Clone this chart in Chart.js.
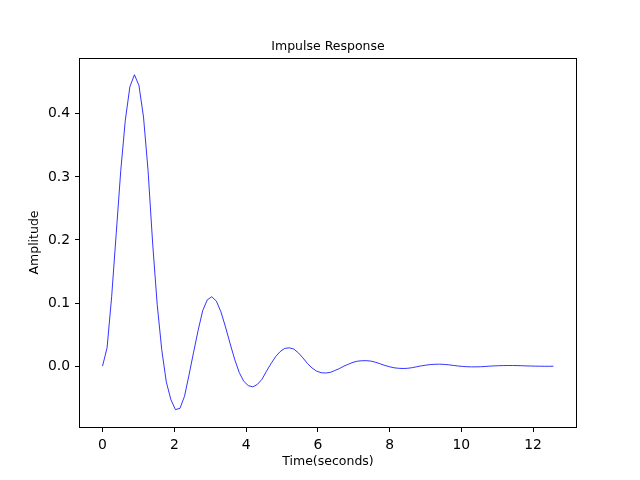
<!DOCTYPE html>
<html>
<head>
<meta charset="utf-8">
<script src="https://cdn.jsdelivr.net/npm/chart.js@4.4.0/dist/chart.umd.min.js"></script>
<style>
  html, body { margin: 0; padding: 0; background: #fff; }
  #wrap { width: 640px; height: 480px; position: relative; }
</style>
</head>
<body>
<div id="wrap"><canvas id="chart" width="640" height="480"></canvas></div>
<script>
// sample times (s)
const times = [
  0.000, 0.127, 0.254, 0.381, 0.508, 0.635, 0.762, 0.889, 1.015, 1.142,
  1.269, 1.396, 1.523, 1.650, 1.777, 1.904, 2.031, 2.158, 2.284, 2.411,
  2.538, 2.665, 2.792, 2.919, 3.046, 3.173, 3.300, 3.427, 3.554, 3.681,
  3.808, 3.935, 4.062, 4.189, 4.316, 4.443, 4.570, 4.697, 4.824, 4.950,
  5.077, 5.204, 5.331, 5.458, 5.585, 5.712, 5.839, 5.966, 6.093, 6.219,
  6.346, 6.473, 6.600, 6.727, 6.854, 6.981, 7.108, 7.235, 7.362, 7.489,
  7.616, 7.743, 7.870, 7.997, 8.124, 8.250, 8.377, 8.504, 8.631, 8.758,
  8.885, 9.012, 9.139, 9.266, 9.393, 9.520, 9.647, 9.774, 9.900, 10.027,
  10.154, 10.281, 10.408, 10.535, 10.662, 10.789, 10.916, 11.043, 11.170, 11.297,
  11.424, 11.551, 11.677, 11.804, 11.931, 12.058, 12.185, 12.312, 12.439, 12.566
];

// amplitude at each sample
const amplitude = [
  0.000, 0.029, 0.110, 0.210, 0.310, 0.390, 0.443, 0.462, 0.445, 0.395,
  0.310, 0.195, 0.098, 0.026, -0.025, -0.053, -0.069, -0.067, -0.048, -0.014,
  0.022, 0.057, 0.088, 0.105, 0.110, 0.103, 0.086, 0.062, 0.036, 0.011,
  -0.010, -0.024, -0.031, -0.033, -0.029, -0.021, -0.008, 0.004, 0.015, 0.023,
  0.028, 0.029, 0.027, 0.021, 0.013, 0.004, -0.003, -0.008, -0.0105, -0.011,
  -0.010, -0.007, -0.004, 0.000, 0.003, 0.006, 0.0078, 0.0085, 0.0086, 0.0078,
  0.006, 0.0035, 0.001, -0.001, -0.0027, -0.0035, -0.0038, -0.0035, -0.0025, -0.001,
  0.0004, 0.0015, 0.0024, 0.0029, 0.003, 0.0027, 0.002, 0.0011, 0.0002, -0.0005,
  -0.001, -0.0012, -0.0012, -0.001, -0.0006, -0.0001, 0.0003, 0.0006, 0.0008, 0.0009,
  0.0009, 0.0008, 0.0006, 0.0003, 0.0001, -0.0001, -0.0002, -0.0003, -0.0003, -0.0002
];

const xTicks = [0, 2, 4, 6, 8, 10, 12];
const yTicks = [0.0, 0.1, 0.2, 0.3, 0.4];

const TITLE = "Impulse Response";
const FONT = "'DejaVu Sans', sans-serif";

const points = times.map(function (t, i) {
  return { x: t, y: amplitude[i] };
});

// black box round the plot area, title centred over it
const frame = {
  id: "frame",
  afterDraw: function (chart) {
    const a = chart.chartArea;
    const ctx = chart.ctx;
    ctx.save();
    ctx.strokeStyle = "#000";
    ctx.lineWidth = 1;
    ctx.strokeRect(Math.round(a.left) - 0.5, Math.round(a.top) + 0.5,
      Math.round(a.right - a.left) + 1, Math.round(a.bottom - a.top));
    ctx.fillStyle = "#000";
    ctx.font = "12.5px " + FONT;
    ctx.textAlign = "center";
    ctx.textBaseline = "middle";
    ctx.fillText(TITLE, (a.left + a.right) / 2, 47);
    ctx.restore();
  },
};

new Chart(document.getElementById("chart"), {
  type: "scatter",
  data: {
    datasets: [{
      data: points,
      showLine: true,
      borderColor: "#0000ff",
      borderWidth: 0.8,
      pointRadius: 0,
      tension: 0,
      fill: false,
    }],
  },
  options: {
    responsive: false,
    animation: false,
    events: [],
    layout: { padding: { left: 0, right: 64, top: 58, bottom: 0 } },
    plugins: {
      legend: { display: false },
      tooltip: { enabled: false },
      title: { display: false },
    },
    scales: {
      x: {
        type: "linear",
        min: -0.628,
        max: 13.195,
        afterBuildTicks: function (scale) {
          scale.ticks = xTicks.map(function (v) { return { value: v }; });
        },
        afterFit: function (scale) { scale.height = 53; },
        ticks: {
          color: "#000",
          font: { family: FONT, size: 13.9 },
          padding: 5,
          maxRotation: 0,
          callback: function (v) { return String(v); },
        },
        grid: {
          drawOnChartArea: false,
          drawTicks: true,
          tickLength: 5,
          tickColor: "#000",
        },
        border: { display: false },
        title: {
          display: true,
          text: "Time(seconds)",
          color: "#000",
          font: { family: FONT, size: 12.5 },
          padding: { top: 0, bottom: 10.5 },
        },
      },
      y: {
        type: "linear",
        min: -0.0966,
        max: 0.4886,
        afterBuildTicks: function (scale) {
          scale.ticks = yTicks.map(function (v) { return { value: v }; });
        },
        afterFit: function (scale) { scale.width = 80; },
        ticks: {
          color: "#000",
          font: { family: FONT, size: 13.9 },
          padding: 5,
          callback: function (v) { return Number(v).toFixed(1); },
        },
        grid: {
          drawOnChartArea: false,
          drawTicks: true,
          tickLength: 5,
          tickColor: "#000",
        },
        border: { display: false },
        title: {
          display: true,
          text: "Amplitude",
          color: "#000",
          font: { family: FONT, size: 12.5 },
          padding: { top: 27.5, bottom: 0 },
        },
      },
    },
  },
  plugins: [frame],
});
</script>
</body>
</html>
